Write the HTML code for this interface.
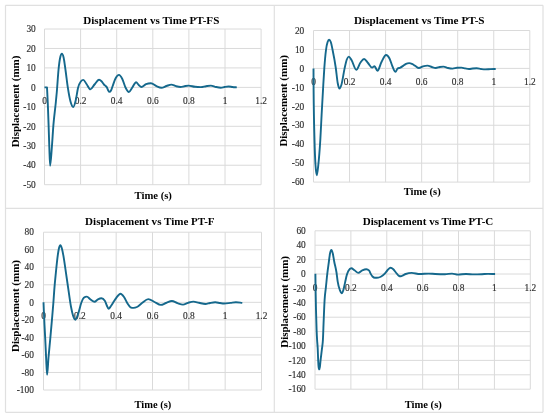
<!DOCTYPE html>
<html><head><meta charset="utf-8"><title>Displacement vs Time</title>
<style>
html,body{margin:0;padding:0;background:#fff;}
body{width:550px;height:418px;overflow:hidden;}
svg{display:block;}
.t{font-family:'Liberation Serif', 'Times New Roman', serif;font-size:9.4px;fill:#2e2e2e;stroke:#2e2e2e;stroke-width:0.15px;}
.b{font-family:'Liberation Serif', 'Times New Roman', serif;font-size:11px;font-weight:bold;fill:#000;}
</style></head>
<body>
<svg width="550" height="418" viewBox="0 0 550 418">
<rect width="550" height="418" fill="#fff"/>
<path d="M5.5,5.3H543.0M5.5,208.3H543.0M5.5,412.3H543.0M5.5,5.3V412.3M274.3,5.3V412.3M543.0,5.3V412.3" stroke="#e0e0e0" stroke-width="1.2" fill="none"/>
<path d="M44.50,29.00H261.10M44.50,48.46H261.10M44.50,67.92H261.10M44.50,87.39H261.10M44.50,106.85H261.10M44.50,126.31H261.10M44.50,145.77H261.10M44.50,165.24H261.10M44.50,184.70H261.10M44.50,29.00V184.70M80.60,29.00V184.70M116.70,29.00V184.70M152.80,29.00V184.70M188.90,29.00V184.70M225.00,29.00V184.70M261.10,29.00V184.70" stroke="#dadada" stroke-width="1" fill="none"/>
<text x="35.80" y="32.20" text-anchor="end" class="t">30</text>
<text x="44.50" y="103.99" text-anchor="middle" class="t">0</text><text x="80.60" y="103.99" text-anchor="middle" class="t">0.2</text><text x="116.70" y="103.99" text-anchor="middle" class="t">0.4</text><text x="152.80" y="103.99" text-anchor="middle" class="t">0.6</text><text x="188.90" y="103.99" text-anchor="middle" class="t">0.8</text><text x="225.00" y="103.99" text-anchor="middle" class="t">1</text><text x="261.10" y="103.99" text-anchor="middle" class="t">1.2</text>
<text x="35.80" y="51.66" text-anchor="end" class="t">20</text>
<text x="35.80" y="71.12" text-anchor="end" class="t">10</text>
<text x="35.80" y="90.59" text-anchor="end" class="t">0</text>
<text x="35.80" y="110.05" text-anchor="end" class="t">-10</text>
<text x="35.80" y="129.51" text-anchor="end" class="t">-20</text>
<text x="35.80" y="148.97" text-anchor="end" class="t">-30</text>
<text x="35.80" y="168.44" text-anchor="end" class="t">-40</text>
<text x="35.80" y="187.90" text-anchor="end" class="t">-50</text>
<path d="M44.50,87.40L47.00,87.40 C47.27,92.77 47.53,97.22 47.80,103.50 C48.07,109.78 48.33,117.35 48.60,125.10 C48.83,131.88 49.07,140.26 49.30,146.70 C49.57,154.06 49.83,165.80 50.10,165.80 C50.70,165.80 51.30,154.31 51.90,146.70 C52.40,140.36 52.90,131.31 53.40,125.10 C54.17,115.58 54.93,111.25 55.70,103.50 C56.07,99.79 56.43,96.19 56.80,92.00 C57.37,85.52 57.93,75.76 58.50,70.00 C59.10,63.90 59.70,59.55 60.30,57.00 C60.83,54.73 61.37,53.60 61.90,53.60 C62.47,53.60 63.03,55.05 63.60,57.50 C64.23,60.23 64.87,65.55 65.50,70.00 C66.27,75.39 67.03,82.43 67.80,87.40 C68.70,93.24 69.60,98.23 70.50,101.50 C71.40,104.77 72.30,107.00 73.20,107.00 C74.07,107.00 74.93,103.63 75.80,100.00 C76.53,96.93 77.27,90.99 78.00,88.00 C78.93,84.20 79.87,82.69 80.80,81.50 C81.63,80.43 82.47,79.90 83.30,79.90 C84.37,79.90 85.43,82.58 86.50,84.00 C87.80,85.73 89.10,89.40 90.40,89.40 C91.77,89.40 93.13,86.04 94.50,84.50 C96.00,82.82 97.50,79.80 99.00,79.80 C99.83,79.80 100.67,80.42 101.50,81.20 C102.33,81.98 103.17,83.59 104.00,84.50 C104.53,85.08 105.07,85.46 105.60,86.00 C106.00,86.41 106.40,86.63 106.80,87.30 C107.20,87.97 107.60,89.27 108.00,90.00 C108.50,90.91 109.00,91.90 109.50,91.90 C110.00,91.90 110.50,91.40 111.00,90.50 C111.50,89.60 112.00,87.83 112.50,86.50 C113.50,83.83 114.50,80.41 115.50,78.50 C116.67,76.27 117.83,74.90 119.00,74.90 C120.10,74.90 121.20,76.84 122.30,79.00 C123.37,81.09 124.43,85.36 125.50,87.50 C126.63,89.78 127.77,92.00 128.90,92.00 C130.03,92.00 131.17,89.04 132.30,87.50 C133.57,85.78 134.83,82.20 136.10,82.20 C136.97,82.20 137.83,84.21 138.70,85.00 C139.60,85.82 140.50,87.00 141.40,87.00 C142.93,87.00 144.47,84.83 146.00,84.20 C147.63,83.53 149.27,83.20 150.90,83.20 C152.77,83.20 154.63,85.41 156.50,86.20 C158.13,86.89 159.77,87.80 161.40,87.80 C163.10,87.80 164.80,86.54 166.50,86.00 C168.13,85.48 169.77,84.60 171.40,84.60 C172.93,84.60 174.47,85.80 176.00,86.20 C177.50,86.59 179.00,87.00 180.50,87.00 C181.83,87.00 183.17,86.43 184.50,86.20 C185.87,85.96 187.23,85.60 188.60,85.60 C190.73,85.60 192.87,86.58 195.00,86.80 C196.97,87.00 198.93,87.10 200.90,87.10 C202.60,87.10 204.30,86.45 206.00,86.20 C207.63,85.96 209.27,85.60 210.90,85.60 C212.60,85.60 214.30,86.65 216.00,87.00 C217.63,87.34 219.27,87.70 220.90,87.70 C222.10,87.70 223.30,87.19 224.50,87.00 C225.87,86.78 227.23,86.50 228.60,86.50 C229.90,86.50 231.20,86.86 232.50,87.00 C233.93,87.16 235.37,87.27 236.80,87.40" stroke="#15688c" stroke-width="1.9" fill="none" stroke-linejoin="round" stroke-linecap="butt"/>
<text x="83.30" y="23.80" class="b" textLength="136.0" lengthAdjust="spacingAndGlyphs">Displacement vs Time PT-FS</text>
<text x="134.50" y="198.60" class="b" textLength="37.4" lengthAdjust="spacingAndGlyphs">Time (s)</text>
<text transform="translate(19.30,147.30) rotate(-90)" x="0" y="0" class="b" textLength="91.6" lengthAdjust="spacingAndGlyphs">Displacement (mm)</text>
<path d="M313.50,30.50H529.80M313.50,49.45H529.80M313.50,68.40H529.80M313.50,87.35H529.80M313.50,106.30H529.80M313.50,125.25H529.80M313.50,144.20H529.80M313.50,163.15H529.80M313.50,182.10H529.80M313.50,30.50V182.10M349.55,30.50V182.10M385.60,30.50V182.10M421.65,30.50V182.10M457.70,30.50V182.10M493.75,30.50V182.10M529.80,30.50V182.10" stroke="#dadada" stroke-width="1" fill="none"/>
<text x="304.30" y="33.70" text-anchor="end" class="t">20</text>
<text x="313.50" y="85.00" text-anchor="middle" class="t">0</text><text x="349.55" y="85.00" text-anchor="middle" class="t">0.2</text><text x="385.60" y="85.00" text-anchor="middle" class="t">0.4</text><text x="421.65" y="85.00" text-anchor="middle" class="t">0.6</text><text x="457.70" y="85.00" text-anchor="middle" class="t">0.8</text><text x="493.75" y="85.00" text-anchor="middle" class="t">1</text><text x="529.80" y="85.00" text-anchor="middle" class="t">1.2</text>
<text x="304.30" y="52.65" text-anchor="end" class="t">10</text>
<text x="304.30" y="71.60" text-anchor="end" class="t">0</text>
<text x="304.30" y="90.55" text-anchor="end" class="t">-10</text>
<text x="304.30" y="109.50" text-anchor="end" class="t">-20</text>
<text x="304.30" y="128.45" text-anchor="end" class="t">-30</text>
<text x="304.30" y="147.40" text-anchor="end" class="t">-40</text>
<text x="304.30" y="166.35" text-anchor="end" class="t">-50</text>
<text x="304.30" y="185.30" text-anchor="end" class="t">-60</text>
<path d="M313.50,68.40 C313.53,75.60 313.57,86.30 313.60,90.00 C313.90,123.33 314.20,127.68 314.50,140.00 C314.83,153.69 315.17,159.72 315.50,165.00 C315.93,171.87 316.37,175.30 316.80,175.30 C317.30,175.30 317.80,169.64 318.30,165.00 C318.97,158.81 319.63,151.05 320.30,140.00 C320.73,132.82 321.17,123.05 321.60,115.00 C322.07,106.33 322.53,98.03 323.00,90.00 C323.43,82.54 323.87,74.51 324.30,68.40 C324.87,60.41 325.43,54.43 326.00,50.00 C326.53,45.83 327.07,43.56 327.60,42.00 C328.10,40.53 328.60,39.80 329.10,39.80 C329.67,39.80 330.23,40.53 330.80,42.00 C331.40,43.55 332.00,47.08 332.60,50.00 C333.67,55.19 334.73,60.48 335.80,68.00 C336.43,72.46 337.07,79.57 337.70,83.00 C338.30,86.25 338.90,88.50 339.50,88.50 C340.17,88.50 340.83,86.67 341.50,84.50 C342.53,81.14 343.57,73.07 344.60,68.40 C345.33,65.08 346.07,61.47 346.80,59.50 C347.47,57.71 348.13,56.60 348.80,56.60 C349.70,56.60 350.60,58.61 351.50,60.00 C353.10,62.47 354.70,69.80 356.30,69.80 C357.70,69.80 359.10,64.36 360.50,62.50 C361.70,60.91 362.90,59.00 364.10,59.00 C365.40,59.00 366.70,61.61 368.00,63.00 C369.37,64.47 370.73,67.60 372.10,67.60 C372.90,67.60 373.70,66.20 374.50,66.20 C375.50,66.20 376.50,70.80 377.50,70.80 C378.83,70.80 380.17,64.51 381.50,62.00 C383.03,59.11 384.57,55.00 386.10,55.00 C387.23,55.00 388.37,56.35 389.50,58.50 C390.50,60.40 391.50,64.28 392.50,66.50 C393.50,68.72 394.50,71.80 395.50,71.80 C396.20,71.80 396.90,69.10 397.60,68.60 C398.53,67.93 399.47,68.06 400.40,67.60 C401.30,67.15 402.20,66.51 403.10,65.90 C404.07,65.25 405.03,64.24 406.00,63.80 C407.03,63.33 408.07,63.10 409.10,63.10 C410.23,63.10 411.37,63.65 412.50,64.20 C413.37,64.62 414.23,65.28 415.10,65.80 C416.37,66.56 417.63,68.00 418.90,68.00 C420.27,68.00 421.63,66.70 423.00,66.30 C424.53,65.85 426.07,65.60 427.60,65.60 C429.00,65.60 430.40,66.59 431.80,67.00 C433.13,67.39 434.47,68.00 435.80,68.00 C437.13,68.00 438.47,67.24 439.80,67.00 C441.03,66.78 442.27,66.60 443.50,66.60 C445.00,66.60 446.50,67.67 448.00,68.00 C449.53,68.34 451.07,68.60 452.60,68.60 C454.07,68.60 455.53,67.93 457.00,67.80 C458.47,67.67 459.93,67.60 461.40,67.60 C462.67,67.60 463.93,68.17 465.20,68.40 C466.47,68.63 467.73,69.00 469.00,69.00 C470.27,69.00 471.53,68.62 472.80,68.50 C474.07,68.38 475.33,68.30 476.60,68.30 C478.07,68.30 479.53,68.82 481.00,69.00 C482.47,69.18 483.93,69.40 485.40,69.40 C487.10,69.40 488.80,69.17 490.50,69.10 C492.23,69.03 493.97,69.03 495.70,69.00" stroke="#15688c" stroke-width="1.9" fill="none" stroke-linejoin="round" stroke-linecap="butt"/>
<text x="354.00" y="24.00" class="b" textLength="130.6" lengthAdjust="spacingAndGlyphs">Displacement vs Time PT-S</text>
<text x="403.70" y="195.30" class="b" textLength="37.0" lengthAdjust="spacingAndGlyphs">Time (s)</text>
<text transform="translate(286.80,146.60) rotate(-90)" x="0" y="0" class="b" textLength="91.5" lengthAdjust="spacingAndGlyphs">Displacement (mm)</text>
<path d="M43.50,232.20H261.50M43.50,249.73H261.50M43.50,267.27H261.50M43.50,284.80H261.50M43.50,302.33H261.50M43.50,319.87H261.50M43.50,337.40H261.50M43.50,354.93H261.50M43.50,372.47H261.50M43.50,390.00H261.50M43.50,232.20V390.00M79.83,232.20V390.00M116.17,232.20V390.00M152.50,232.20V390.00M188.83,232.20V390.00M225.17,232.20V390.00M261.50,232.20V390.00" stroke="#dadada" stroke-width="1" fill="none"/>
<text x="33.90" y="235.40" text-anchor="end" class="t">80</text>
<text x="43.50" y="318.93" text-anchor="middle" class="t">0</text><text x="79.83" y="318.93" text-anchor="middle" class="t">0.2</text><text x="116.17" y="318.93" text-anchor="middle" class="t">0.4</text><text x="152.50" y="318.93" text-anchor="middle" class="t">0.6</text><text x="188.83" y="318.93" text-anchor="middle" class="t">0.8</text><text x="225.17" y="318.93" text-anchor="middle" class="t">1</text><text x="261.50" y="318.93" text-anchor="middle" class="t">1.2</text>
<text x="33.90" y="252.93" text-anchor="end" class="t">60</text>
<text x="33.90" y="270.47" text-anchor="end" class="t">40</text>
<text x="33.90" y="288.00" text-anchor="end" class="t">20</text>
<text x="33.90" y="305.53" text-anchor="end" class="t">0</text>
<text x="33.90" y="323.07" text-anchor="end" class="t">-20</text>
<text x="33.90" y="340.60" text-anchor="end" class="t">-40</text>
<text x="33.90" y="358.13" text-anchor="end" class="t">-60</text>
<text x="33.90" y="375.67" text-anchor="end" class="t">-80</text>
<text x="33.90" y="393.20" text-anchor="end" class="t">-100</text>
<path d="M43.50,302.30 C43.60,304.87 43.70,307.56 43.80,310.00 C44.03,315.69 44.27,320.28 44.50,325.00 C44.73,329.72 44.97,333.63 45.20,338.30 C45.50,344.31 45.80,351.66 46.10,357.50 C46.43,363.99 46.77,374.90 47.10,374.90 C47.57,374.90 48.03,362.94 48.50,357.50 C49.10,350.51 49.70,344.88 50.30,338.30 C50.87,332.09 51.43,325.83 52.00,319.20 C52.47,313.74 52.93,308.51 53.40,302.30 C53.70,298.31 54.00,293.47 54.30,289.60 C54.83,282.72 55.37,277.72 55.90,272.40 C56.53,266.08 57.17,259.75 57.80,255.20 C58.17,252.57 58.53,250.11 58.90,248.50 C59.40,246.30 59.90,245.20 60.40,245.20 C60.90,245.20 61.40,246.73 61.90,248.50 C62.37,250.15 62.83,252.67 63.30,255.20 C64.17,259.90 65.03,266.55 65.90,272.40 C66.73,278.03 67.57,283.97 68.40,289.60 C69.27,295.45 70.13,302.18 71.00,306.80 C71.67,310.36 72.33,313.39 73.00,315.50 C73.80,318.03 74.60,319.70 75.40,319.70 C76.40,319.70 77.40,315.87 78.40,313.00 C79.40,310.13 80.40,305.14 81.40,302.50 C82.20,300.39 83.00,298.44 83.80,297.80 C84.80,297.00 85.80,296.60 86.80,296.60 C88.03,296.60 89.27,298.66 90.50,299.50 C91.83,300.41 93.17,301.80 94.50,301.80 C95.67,301.80 96.83,299.88 98.00,299.30 C99.17,298.72 100.33,298.30 101.50,298.30 C102.60,298.30 103.70,299.13 104.80,300.80 C105.47,301.81 106.13,304.11 106.80,305.50 C107.40,306.75 108.00,308.80 108.60,308.80 C109.33,308.80 110.07,307.28 110.80,306.30 C111.70,305.09 112.60,303.39 113.50,302.00 C114.43,300.56 115.37,299.00 116.30,297.80 C117.70,296.01 119.10,293.80 120.50,293.80 C121.67,293.80 122.83,295.38 124.00,297.00 C125.17,298.62 126.33,301.70 127.50,303.50 C128.50,305.04 129.50,306.90 130.50,307.30 C131.50,307.70 132.50,307.90 133.50,307.90 C134.67,307.90 135.83,307.56 137.00,307.00 C138.67,306.20 140.33,304.20 142.00,303.00 C144.10,301.49 146.20,299.10 148.30,299.10 C150.37,299.10 152.43,301.04 154.50,302.00 C156.60,302.97 158.70,304.90 160.80,304.90 C162.53,304.90 164.27,303.61 166.00,303.00 C167.97,302.31 169.93,301.00 171.90,301.00 C173.77,301.00 175.63,302.60 177.50,303.20 C179.33,303.79 181.17,304.60 183.00,304.60 C184.67,304.60 186.33,303.29 188.00,302.80 C189.80,302.27 191.60,301.60 193.40,301.60 C195.27,301.60 197.13,302.42 199.00,302.80 C201.13,303.23 203.27,304.00 205.40,304.00 C206.93,304.00 208.47,303.27 210.00,303.00 C211.73,302.69 213.47,302.30 215.20,302.30 C216.80,302.30 218.40,302.79 220.00,303.00 C221.37,303.18 222.73,303.50 224.10,303.50 C226.23,303.50 228.37,303.12 230.50,302.90 C232.30,302.71 234.10,302.30 235.90,302.30 C238.03,302.30 240.17,302.70 242.30,302.90" stroke="#15688c" stroke-width="1.9" fill="none" stroke-linejoin="round" stroke-linecap="butt"/>
<text x="85.10" y="224.60" class="b" textLength="129.5" lengthAdjust="spacingAndGlyphs">Displacement vs Time PT-F</text>
<text x="134.50" y="408.10" class="b" textLength="36.8" lengthAdjust="spacingAndGlyphs">Time (s)</text>
<text transform="translate(18.70,351.90) rotate(-90)" x="0" y="0" class="b" textLength="91.9" lengthAdjust="spacingAndGlyphs">Displacement (mm)</text>
<path d="M315.00,230.80H530.30M315.00,245.20H530.30M315.00,259.60H530.30M315.00,274.00H530.30M315.00,288.40H530.30M315.00,302.80H530.30M315.00,317.20H530.30M315.00,331.60H530.30M315.00,346.00H530.30M315.00,360.40H530.30M315.00,374.80H530.30M315.00,389.20H530.30M315.00,230.80V389.20M350.88,230.80V389.20M386.77,230.80V389.20M422.65,230.80V389.20M458.53,230.80V389.20M494.42,230.80V389.20M530.30,230.80V389.20" stroke="#dadada" stroke-width="1" fill="none"/>
<text x="305.80" y="234.00" text-anchor="end" class="t">60</text>
<text x="315.00" y="290.60" text-anchor="middle" class="t">0</text><text x="350.88" y="290.60" text-anchor="middle" class="t">0.2</text><text x="386.77" y="290.60" text-anchor="middle" class="t">0.4</text><text x="422.65" y="290.60" text-anchor="middle" class="t">0.6</text><text x="458.53" y="290.60" text-anchor="middle" class="t">0.8</text><text x="494.42" y="290.60" text-anchor="middle" class="t">1</text><text x="530.30" y="290.60" text-anchor="middle" class="t">1.2</text>
<text x="305.80" y="248.40" text-anchor="end" class="t">40</text>
<text x="305.80" y="262.80" text-anchor="end" class="t">20</text>
<text x="305.80" y="277.20" text-anchor="end" class="t">0</text>
<text x="305.80" y="291.60" text-anchor="end" class="t">-20</text>
<text x="305.80" y="306.00" text-anchor="end" class="t">-40</text>
<text x="305.80" y="320.40" text-anchor="end" class="t">-60</text>
<text x="305.80" y="334.80" text-anchor="end" class="t">-80</text>
<text x="305.80" y="349.20" text-anchor="end" class="t">-100</text>
<text x="305.80" y="363.60" text-anchor="end" class="t">-120</text>
<text x="305.80" y="378.00" text-anchor="end" class="t">-140</text>
<text x="305.80" y="392.40" text-anchor="end" class="t">-160</text>
<path d="M315.40,273.80 C315.47,279.20 315.53,285.29 315.60,290.00 C315.73,299.42 315.87,304.22 316.00,310.00 C316.20,318.67 316.40,324.79 316.60,330.00 C316.77,334.34 316.93,337.12 317.10,340.00 C317.30,343.45 317.50,344.40 317.70,348.40 C317.87,351.73 318.03,357.68 318.20,360.90 C318.33,363.47 318.47,365.64 318.60,366.80 C318.80,368.53 319.00,369.40 319.20,369.40 C319.43,369.40 319.67,368.44 319.90,366.80 C320.10,365.40 320.30,362.78 320.50,360.90 C321.00,356.20 321.50,352.88 322.00,348.40 C322.30,345.71 322.60,345.29 322.90,340.00 C323.17,335.30 323.43,326.32 323.70,320.00 C324.00,312.89 324.30,305.14 324.60,300.00 C325.03,292.58 325.47,291.52 325.90,287.30 C326.37,282.75 326.83,277.78 327.30,273.70 C327.83,269.04 328.37,265.46 328.90,261.50 C329.27,258.78 329.63,255.39 330.00,253.50 C330.47,251.10 330.93,249.90 331.40,249.90 C331.87,249.90 332.33,251.57 332.80,253.50 C333.27,255.43 333.73,259.00 334.20,261.50 C334.97,265.61 335.73,267.42 336.50,272.50 C336.90,275.15 337.30,279.09 337.70,281.60 C338.43,286.21 339.17,288.17 339.90,290.20 C340.47,291.77 341.03,293.40 341.60,293.40 C342.17,293.40 342.73,291.94 343.30,290.20 C343.90,288.36 344.50,284.99 345.10,282.40 C345.67,279.96 346.23,277.03 346.80,275.10 C347.37,273.17 347.93,271.85 348.50,270.80 C349.43,269.07 350.37,268.20 351.30,268.20 C352.37,268.20 353.43,269.59 354.50,270.30 C355.77,271.15 357.03,272.90 358.30,272.90 C359.63,272.90 360.97,271.02 362.30,270.40 C363.63,269.78 364.97,269.20 366.30,269.20 C367.27,269.20 368.23,269.70 369.20,270.70 C369.67,271.18 370.13,272.74 370.60,273.60 C371.23,274.77 371.87,275.84 372.50,276.50 C373.33,277.37 374.17,277.80 375.00,277.80 C376.10,277.80 377.20,277.73 378.30,277.60 C379.27,277.48 380.23,277.05 381.20,276.50 C382.40,275.82 383.60,274.86 384.80,273.60 C385.77,272.59 386.73,270.97 387.70,270.00 C388.67,269.03 389.63,267.80 390.60,267.80 C391.50,267.80 392.40,268.49 393.30,269.30 C394.17,270.08 395.03,271.47 395.90,272.50 C396.80,273.57 397.70,275.03 398.60,275.60 C399.33,276.07 400.07,276.30 400.80,276.30 C401.53,276.30 402.27,275.64 403.00,275.30 C403.90,274.88 404.80,274.33 405.70,274.00 C407.70,273.27 409.70,272.90 411.70,272.90 C414.43,272.90 417.17,274.00 419.90,274.00 C422.80,274.00 425.70,273.60 428.60,273.60 C430.80,273.60 433.00,273.91 435.20,274.00 C438.47,274.13 441.73,274.20 445.00,274.20 C447.33,274.20 449.67,273.60 452.00,273.60 C454.00,273.60 456.00,274.60 458.00,274.60 C460.67,274.60 463.33,274.00 466.00,274.00 C468.67,274.00 471.33,274.40 474.00,274.40 C476.67,274.40 479.33,274.30 482.00,274.20 C484.00,274.12 486.00,273.90 488.00,273.90 C490.37,273.90 492.73,273.97 495.10,274.00" stroke="#15688c" stroke-width="1.9" fill="none" stroke-linejoin="round" stroke-linecap="butt"/>
<text x="362.70" y="224.60" class="b" textLength="130.6" lengthAdjust="spacingAndGlyphs">Displacement vs Time PT-C</text>
<text x="404.70" y="407.60" class="b" textLength="37.1" lengthAdjust="spacingAndGlyphs">Time (s)</text>
<text transform="translate(288.20,347.80) rotate(-90)" x="0" y="0" class="b" textLength="91.8" lengthAdjust="spacingAndGlyphs">Displacement (mm)</text>
</svg>
</body></html>
